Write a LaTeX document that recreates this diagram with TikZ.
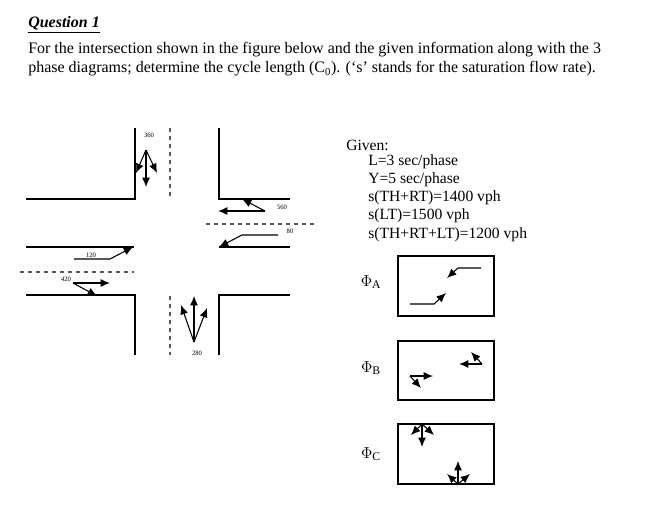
\documentclass[tikz,border=0pt]{standalone}
\usepackage{fontspec}
\setmainfont{Liberation Serif}
\usetikzlibrary{arrows.meta}
\begin{document}
\begin{tikzpicture}[x=0.75pt,y=-0.75pt,
 road/.style={line width=0.8pt},
 thick road/.style={line width=2.2pt},
 lane/.style={dashed,line width=0.8pt,gray!70!black},
 mv/.style={line width=0.8pt,-{Latex[length=7pt,width=6pt]}},
 vol/.style={font=\fontsize{5}{6}\selectfont,inner sep=0pt},
 txt/.style={anchor=west,inner sep=0pt,font=\fontsize{12}{14}\selectfont},
 gv/.style={anchor=west,inner sep=0pt,font=\fontsize{11.7}{13}\selectfont},
 phbox/.style={draw,line width=0.8pt},
 phl/.style={font=\fontsize{12.5}{14}\selectfont,inner sep=0pt}]
\useasboundingbox (0,0) rectangle (656,509);
\node[txt] (q) at (28,25) {\textbf{\textit{\underline{Question 1}}}};
\node[txt] (l1) at (28,50) {For the intersection shown in the figure below and the given information along with the 3};
\node[txt] (l2) at (28,69) {phase diagrams; determine the cycle length (C\textsubscript{0}). (‘s’ stands for the saturation flow rate).};
% roads
\draw[road] (135,128) -- (135,199) -- (26,199);
\draw[road] (219,128) -- (219,199) -- (290,199);
\draw[thick road] (26,247) -- (134,247);
\draw[thick road] (219,247) -- (290,247);
\draw[road] (26,295) -- (135,295) -- (135,355);
\draw[road] (219,355) -- (219,295) -- (290,295);
\draw[lane] (170,128) -- (170,199);
\draw[lane] (170,296) -- (170,355);
\draw[lane] (20,272) -- (134,272);
\draw[lane] (206,224) -- (314,224);
% north approach
\coordinate (n0) at (146,150);
\node[vol] (n) at (149,135) {360};
\draw[mv] (n0) -- (146,187);
\draw[mv] (n0) -- (136,173);
\draw[mv] (n0) -- (157,173);
% east approach
\coordinate (e0) at (265,211);
\node[vol] (e) at (282,207) {560};
\draw[mv] (e0) -- (218,211);
\draw[mv] (e0) -- (242,199);
\coordinate (e1) at (278,235);
\coordinate (e2) at (242,235);
\node[vol] (e80) at (290,231) {80};
\draw[mv] (e1) -- (e2) -- (219,247);
% west approach
\coordinate (w1) at (74,259);
\coordinate (w2) at (110,259);
\node[vol] (w120) at (91,255) {120};
\draw[mv] (w1) -- (w2) -- (133,247);
\coordinate (w0) at (73,283);
\node[vol] (w420) at (66,279) {420};
\draw[mv] (w0) -- (110,283);
\draw[mv] (w0) -- (97,296);
% south approach
\coordinate (s0) at (194,342);
\node[vol] (s) at (197,353) {280};
\draw[mv] (s0) -- (194,296);
\draw[mv] (s0) -- (181,305);
\draw[mv] (s0) -- (207,308);
% given
\node[gv] (g) at (346,145) {Given:};
\node[gv] (g1) at (368,162) {L=3 sec/phase};
\node[gv] (g2) at (368,180) {Y=5 sec/phase};
\node[gv] (g3) at (368,198) {s(TH+RT)=1400 vph};
\node[gv] (g4) at (368,216) {s(LT)=1500 vph};
\node[gv] (g5) at (368,235) {s(TH+RT+LT)=1200 vph};
% phases
\node[phl] (pa) at (371,282) {$\Phi$\textsubscript{A}};
\node[phl] (pb) at (371,368) {$\Phi$\textsubscript{B}};
\node[phl] (pc) at (371,454) {$\Phi$\textsubscript{C}};
\draw[phbox] (398,256) rectangle (494,316);
\draw[phbox] (398,341) rectangle (494,400);
\draw[phbox] (398,424) rectangle (494,484);
\draw[mv] (410,304) -- (434,304) -- (446,293);
\draw[mv] (481,268) -- (458,268) -- (447,278);
\coordinate (b1) at (410,376);
\draw[mv] (b1) -- (433,376);
\draw[mv] (b1) -- (421,388);
\coordinate (b2) at (482,364);
\draw[mv] (b2) -- (459,364);
\draw[mv] (b2) -- (471,352);
\coordinate (c1) at (422,424);
\draw[mv] (c1) -- (422,447);
\draw[mv] (c1) -- (411,435);
\draw[mv] (c1) -- (434,435);
\coordinate (c2) at (458,484);
\draw[mv] (c2) -- (458,461);
\draw[mv] (c2) -- (447,474);
\draw[mv] (c2) -- (470,474);
\end{tikzpicture}
\end{document}
